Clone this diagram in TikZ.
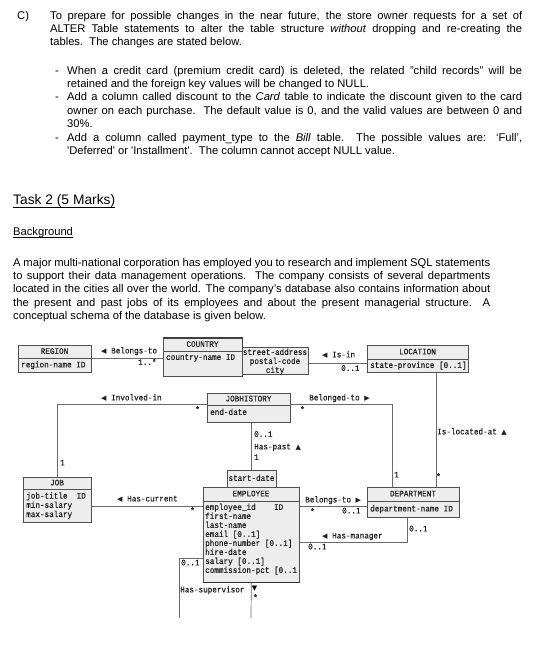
\documentclass[tikz,border=0pt]{standalone}
\usepackage{fontspec}
\setmainfont{Liberation Sans}
\newfontfamily\monof[FakeStretch=0.9,FakeBold=0.3]{Liberation Mono}
\newfontfamily\symf{DejaVu Sans}
\usetikzlibrary{calc}
\definecolor{boxfill}{HTML}{EDEDED}
\definecolor{boxline}{HTML}{505050}
\definecolor{connc}{HTML}{6A6A6A}
\definecolor{txt}{HTML}{1E1E1E}
\newcommand{\bodyfnt}{\fontsize{11.2}{13.4}\selectfont}
\newcommand{\monosz}{\monof\fontsize{8.5}{9}\selectfont}
\newcommand{\triL}{{\symf\fontsize{7}{7}\selectfont ◀}}
\newcommand{\triR}{{\symf\fontsize{7}{7}\selectfont ▶}}
\newcommand{\triU}{{\symf\fontsize{7}{7}\selectfont ▲}}
\newcommand{\triD}{{\symf\fontsize{7}{7}\selectfont ▼}}
\begin{document}
\begin{tikzpicture}[x=1pt,y=-1pt,
  para/.style={anchor=base west, inner sep=0pt, align=justify, font=\bodyfnt},
  plain/.style={anchor=base west, inner sep=0pt, font=\bodyfnt},
  classbox/.style={draw=boxline, fill=boxfill, line width=0.6pt, inner sep=0pt, anchor=north west},
  sepline/.style={draw=boxline, line width=0.6pt},
  conn/.style={draw=connc, line width=0.7pt},
  mono/.style={font=\monosz, inner sep=0pt, text height=4.8pt, text depth=0pt, text=txt},
  monol/.style={mono, anchor=west}
]
\fill[white] (0,0) rectangle (538,649);
\useasboundingbox (0,0) rectangle (538,649);

% ---------- text part ----------
\node[plain] (cLabel) at (17,19) {C)};
\node[para, text width=472pt] (pC) at (50,19) {To prepare for possible changes in the near future, the store owner requests for a set of\linebreak ALTER Table statements to alter the table structure \textit{without} dropping and re-creating the\linebreak tables.\ \ The changes are stated below.};

\node[plain] (d1) at (55,74) {-};
\node[para, text width=455pt] (b1) at (67,74) {When a credit card (premium credit card) is deleted, the related "child records" will be\linebreak retained and the foreign key values will be changed to NULL.};
\node[plain] (d2) at (55,100.8) {-};
\node[para, text width=455pt] (b2) at (67,100.8) {Add a column called discount to the \textit{Card} table to indicate the discount given to the card\linebreak owner on each purchase.\ \ The default value is 0, and the valid values are between 0 and\linebreak 30\%.};
\node[plain] (d3) at (55,141) {-};
\node[para, text width=455pt] (b3) at (67,141) {Add a column called payment\_type to the \textit{Bill} table.\ \ The possible values are: ‘Full’,\linebreak \textquotesingle Deferred\textquotesingle{} or \textquotesingle Installment\textquotesingle.\ \ The column cannot accept NULL value.};

\node[anchor=base west, inner sep=0pt, font=\fontsize{13.8}{15}\selectfont] (task) at (13,204) {Task 2 (5 Marks)};
\draw[line width=0.6pt] (task.south west) -- (task.south east);
\node[plain] (bg) at (13,235) {Background};
\draw[line width=0.6pt] (bg.south west) -- (bg.south east);

\node[para, text width=477pt] (pB) at (13,266) {A major multi-national corporation has employed you to research and implement SQL statements\linebreak to support their data management operations.\ \ The company consists of several departments\linebreak located in the cities all over the world. The company's database also contains information about\linebreak the present and past jobs of its employees and about the present managerial structure.\ \ A\linebreak conceptual schema of the database is given below.};

% ---------- free ends ----------
\coordinate (supA) at (179,618);
\coordinate (supB) at (251,618);

% ---------- boxes ----------
\node[classbox, minimum width=73pt, minimum height=27pt] (region) at (18,345) {};
\draw[sepline] ([yshift=-13pt]region.north west) -- ([yshift=-13pt]region.north east);
\node[mono] (regionH) at (54.5,351.5) {REGION};
\node[monol] (regionA) at (21,365) {region-name ID};

\node[classbox, minimum width=79pt, minimum height=38pt] (country) at (163,338) {};
\draw[sepline] ([yshift=-13pt]country.north west) -- ([yshift=-13pt]country.north east);
\draw[line width=1.1pt, draw=black!75] (country.north west) -- (country.north east) -- (country.south east);
\node[mono] (countryH) at (202.5,344.5) {COUNTRY};
\node[monol] (countryA) at (166,357.5) {country-name ID};

\node[classbox, minimum width=66pt, minimum height=27pt] (locattr) at (242,347) {};
\node[mono] (la1) at (275,352.5) {street-address};
\node[mono] (la2) at (275,361.5) {postal-code};
\node[mono] (la3) at (275,370.5) {city};

\node[classbox, minimum width=101pt, minimum height=27pt] (location) at (367,345) {};
\draw[sepline] ([yshift=-14pt]location.north west) -- ([yshift=-14pt]location.north east);
\node[mono] (locationH) at (417.5,352) {LOCATION};
\node[monol] (locationA) at (370,365.5) {state-province [0..1]};

\node[classbox, minimum width=83pt, minimum height=29pt] (jobhist) at (207,393) {};
\draw[sepline] ([yshift=-12pt]jobhist.north west) -- ([yshift=-12pt]jobhist.north east);
\node[mono] (jobhistH) at (248.5,399) {JOBHISTORY};
\node[monol] (jobhistA) at (210,412.5) {end-date};

\node[classbox, minimum width=49pt, minimum height=17pt] (sd) at (227,470) {};
\node[mono] (sdT) at (251.5,478.5) {start-date};

\node[classbox, minimum width=96pt, minimum height=95pt] (emp) at (203,487) {};
\draw[sepline] ([yshift=-14pt]emp.north west) -- ([yshift=-14pt]emp.north east);
\draw[line width=1.2pt, draw=black!80] (emp.south west) -- (emp.south east);
\node[mono] (empH) at (251,494) {EMPLOYEE};
\foreach \t [count=\i] in {employee\_id~~~~ID, first-name, last-name, email [0..1], phone-number [0..1], hire-date, salary [0..1], commission-pct [0..1}
  \node[monol] (empA\i) at (205,498.5+9*\i) {\t};

\node[classbox, minimum width=68pt, minimum height=45pt] (job) at (23,477) {};
\draw[sepline] ([yshift=-12pt]job.north west) -- ([yshift=-12pt]job.north east);
\node[mono] (jobH) at (57,483) {JOB};
\foreach \t [count=\i] in {job-title~~ID, min-salary, max-salary}
  \node[monol] (jobA\i) at (26,487+9.2*\i) {\t};

\node[classbox, minimum width=92pt, minimum height=30pt] (dept) at (367,487) {};
\draw[sepline] ([yshift=-14pt]dept.north west) -- ([yshift=-14pt]dept.north east);
\node[mono] (deptH) at (413,494) {DEPARTMENT};
\node[monol] (deptA) at (370,509) {department-name ID};

% ---------- connectors ----------
\draw[conn] (region.east) -- (region.east -| country.west);
\draw[conn] ([yshift=-2.5pt]locattr.east) -- ([yshift=-2.5pt]locattr.east -| location.west);
\draw[conn] ([yshift=3.5pt]jobhist.west) -| (job.north);
\draw[conn] ([yshift=3.5pt]jobhist.east) -| ([xshift=-21pt]dept.north);
\draw[conn] ([xshift=18.5pt]location.south) -- ([xshift=18.5pt]location.south |- dept.north);
\draw[conn] (sd.north) -- (sd.north |- jobhist.south);
\draw[conn] ([yshift=-6.5pt]job.east) -- ([yshift=-6.5pt]job.east -| emp.west);
\draw[conn] ([yshift=-4pt]dept.west) -- ([yshift=-4pt]dept.west -| emp.east);
\draw[conn] ([xshift=-6pt]dept.south) |- ([yshift=-7.5pt]emp.east);
\draw[conn] ([yshift=-23.5pt]emp.west) -| (supA);
\draw[conn] (emp.south) -- (supB);

% ---------- labels ----------
\node[monol] (lBel) at (101,351) {\triL~Belongs-to};
\node[monol] (mBel) at (138,362.5) {1..*};
\node[monol] (lIsin) at (322,355) {\triL~Is-in};
\node[monol] (mIsin) at (341,368.5) {0..1};
\node[monol] (lInv) at (101,398) {\triL~Involved-in};
\node[monol] (mInv) at (195,410) {*};
\node[monol] (lBeld) at (309,398) {Belonged-to~\triR};
\node[monol] (mBeld) at (300,410) {*};
\node[monol] (lLoc) at (437,432) {Is-located-at~\triU};
\node[monol] (mPast1) at (254,434.5) {0..1};
\node[monol] (lPast) at (254,447) {Has-past~\triU};
\node[monol] (mPast2) at (254,457.5) {1};
\node[monol] (mJob) at (60,463) {1};
\node[monol] (lCur) at (117,499) {\triL~Has-current};
\node[monol] (mCur) at (190,511) {*};
\node[monol] (mDep1) at (394,475) {1};
\node[monol] (mDep2) at (436,477) {*};
\node[monol] (lBto) at (305,500) {Belongs-to~\triR};
\node[monol] (mBto1) at (310,512) {*};
\node[monol] (mBto2) at (342,511) {0..1};
\node[monol] (lMgr) at (322,536) {\triL~Has-manager};
\node[monol] (mMgr1) at (409,529) {0..1};
\node[monol] (mMgr2) at (308,547) {0..1};
\node[monol] (mSup) at (181,563) {0..1};
\node[monol] (lSup) at (180,590) {Has-supervisor};
\node[inner sep=0pt] (tSup) at (254.5,589) {\triD};
\node[mono] (mSup2) at (255.5,598) {*};
\end{tikzpicture}
\end{document}
